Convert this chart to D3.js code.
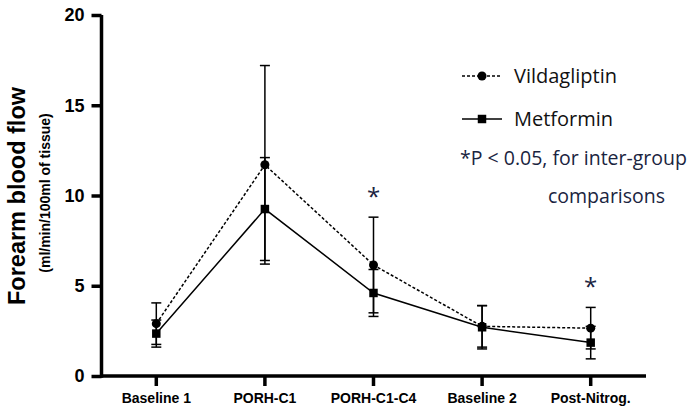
<!DOCTYPE html>
<html>
<head>
<meta charset="utf-8">
<script src="https://cdn.jsdelivr.net/npm/d3@7"></script>
<style>
  body { margin: 0; background: #fff; }
  svg { display: block; }
</style>
</head>
<body>
<svg id="chart" width="694" height="412"></svg>
<script>
// data
const categories = ['Baseline 1', 'PORH-C1', 'PORH-C1-C4', 'Baseline 2', 'Post-Nitrog.'];
const vildaMean = [2.9, 11.7, 6.15, 2.75, 2.65];
const vildaErr  = [1.15, 5.5, 2.65, 1.15, 1.15];
const metfMean  = [2.35, 9.25, 4.6, 2.7, 1.85];
const metfErr   = [0.75, 2.85, 1.3, 1.2, 0.9];
const yTicks = [0, 5, 10, 15, 20];
const starAt = ['PORH-C1-C4', 'Post-Nitrog.'];
const starTop = [8.8, 3.8];

const svg = d3.select('#chart');
const boldFont = '"Liberation Sans", Arial, sans-serif';

const x = d3.scaleBand().domain(categories).range([102, 645]);
const y = d3.scaleLinear().domain([0, 20]).range([376, 15]);
const cx = d => x(d) + x.bandwidth() / 2;

// y axis
const yAxis = svg.append('g')
  .attr('transform', 'translate(101.5,0)')
  .call(d3.axisLeft(y).tickValues(yTicks).tickSize(10).tickPadding(7).tickSizeOuter(0));
yAxis.select('.domain').attr('stroke-width', 3.5).attr('d', `M0,${y(20)}V${y(0) + 1.75}`);
yAxis.selectAll('.tick line').attr('stroke-width', 3.5);
yAxis.selectAll('.tick text')
  .style('font-family', boldFont)
  .style('font-weight', 'bold')
  .style('font-size', '18px')
  .attr('fill', '#000');

// x axis
const xAxis = svg.append('g')
  .attr('transform', 'translate(0,376)')
  .call(d3.axisBottom(x).tickSize(10).tickPadding(7).tickSizeOuter(0));
xAxis.select('.domain').attr('stroke-width', 3.5).attr('d', 'M100,0H646');
xAxis.selectAll('.tick line').attr('stroke-width', 3.5);
xAxis.selectAll('.tick text')
  .style('font-family', boldFont)
  .style('font-weight', 'bold')
  .style('font-size', '14px')
  .attr('fill', '#000');

// axis titles
svg.append('text')
  .attr('transform', 'translate(25,196) rotate(-90)')
  .attr('text-anchor', 'middle')
  .style('font-family', boldFont)
  .style('font-weight', 'bold')
  .style('font-size', '23.5px')
  .text('Forearm blood flow');
svg.append('text')
  .attr('transform', 'translate(50,193) rotate(-90)')
  .attr('text-anchor', 'middle')
  .style('font-family', boldFont)
  .style('font-weight', 'bold')
  .style('font-size', '14px')
  .text('(ml/min/100ml of tissue)');

// series
const series = [
  { name: 'Vildagliptin', mean: vildaMean, err: vildaErr, dash: '3,2', shape: d3.symbolCircle, size: 64 },
  { name: 'Metformin', mean: metfMean, err: metfErr, dash: null, shape: d3.symbolSquare, size: 72 }
];

const line = d3.line().x((d, i) => cx(categories[i])).y(d => y(d));

series.forEach(s => {
  const g = svg.append('g');
  // error bars
  s.mean.forEach((m, i) => {
    const px = cx(categories[i]);
    const top = y(m + s.err[i]), bot = y(m - s.err[i]);
    g.append('line').attr('x1', px).attr('x2', px).attr('y1', top).attr('y2', bot)
      .attr('stroke', '#000').attr('stroke-width', 1.5);
    [top, bot].forEach(cy => {
      g.append('line').attr('x1', px - 5).attr('x2', px + 5).attr('y1', cy).attr('y2', cy)
        .attr('stroke', '#000').attr('stroke-width', 1.5);
    });
  });
  g.append('path')
    .attr('d', line(s.mean))
    .attr('fill', 'none')
    .attr('stroke', '#000')
    .attr('stroke-width', 1.5)
    .attr('stroke-dasharray', s.dash);
  g.selectAll('path.mark').data(s.mean).enter().append('path')
    .attr('class', 'mark')
    .attr('transform', (d, i) => `translate(${cx(categories[i])},${y(d)})`)
    .attr('d', d3.symbol().type(s.shape).size(s.size));
});

// significance stars
starAt.forEach((c, i) => {
  svg.append('text')
    .attr('x', cx(c))
    .attr('y', y(starTop[i]) - 12)
    .attr('text-anchor', 'middle')
    .attr('fill', '#1a2440')
    .style('font-family', '"Open Sans", sans-serif')
    .style('font-size', '24px')
    .text('*');
});

// legend
const legendFont = '"Open Sans", sans-serif';
series.forEach((s, i) => {
  const ly = 76 + i * 43;
  svg.append('line').attr('x1', 462).attr('x2', 502).attr('y1', ly).attr('y2', ly)
    .attr('stroke', '#000').attr('stroke-width', 1.5).attr('stroke-dasharray', s.dash);
  svg.append('path').attr('transform', `translate(482,${ly})`)
    .attr('d', d3.symbol().type(s.shape).size(s.size));
  svg.append('text').attr('x', 514).attr('y', ly + 7)
    .style('font-family', legendFont).style('font-size', '20px')
    .attr('fill', '#111')
    .text(s.name);
});

svg.append('text').attr('x', 460).attr('y', 165)
  .style('font-family', legendFont).style('font-size', '19.5px')
  .attr('fill', '#1a2440')
  .text('*P < 0.05, for inter-group');
svg.append('text').attr('x', 548).attr('y', 203)
  .style('font-family', legendFont).style('font-size', '19.5px')
  .attr('fill', '#1a2440')
  .text('comparisons');
</script>
</body>
</html>
